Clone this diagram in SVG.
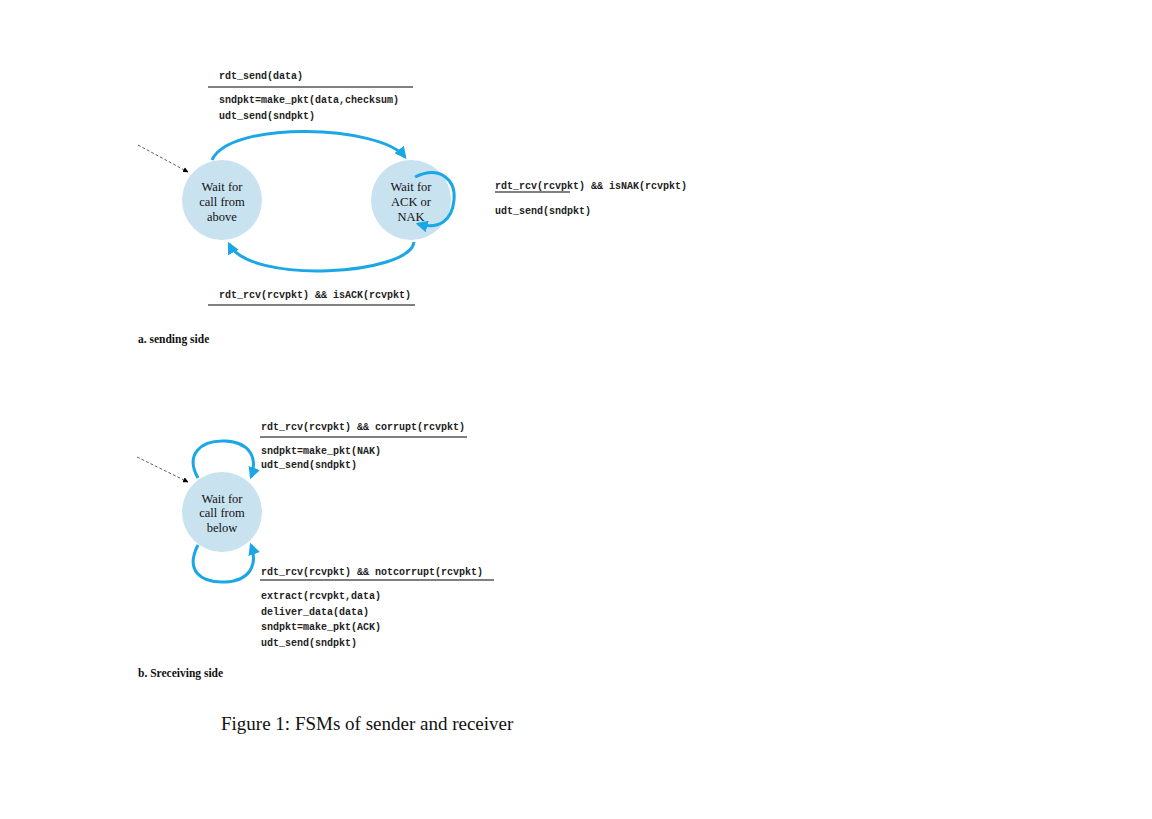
<svg xmlns="http://www.w3.org/2000/svg" width="1152" height="819" viewBox="0 0 1152 819">
<defs>
<marker id="ba" viewBox="0 0 10 10" refX="8" refY="5" markerWidth="4" markerHeight="4" orient="auto"><path d="M0,0L10,5L0,10z" fill="#1aa7e6"/></marker>
<marker id="ka" viewBox="0 0 10 10" refX="9" refY="5" markerWidth="7" markerHeight="7" orient="auto"><path d="M0,0L10,5L0,10z" fill="#000"/></marker>
<style>
.st{fill:#c8e2f0}
.sl{font:12.5px "Liberation Serif",serif;fill:#111;text-anchor:middle}
.m{font:bold 10px "Liberation Mono",monospace;fill:#222}
.e{fill:none;stroke:#1aa7e6;stroke-width:3;marker-end:url(#ba)}
.d{fill:none;stroke:#333;stroke-width:0.8;stroke-dasharray:3,2;marker-end:url(#ka)}
.u{stroke:#000;stroke-width:1}
.h{font:bold 11.5px "Liberation Serif",serif;fill:#111}
</style>
</defs>
<rect width="1152" height="819" fill="#fff"/>
<g id="s1"><circle class="st" cx="222" cy="200" r="40"/><text class="sl" x="222" y="191">Wait for</text><text class="sl" x="222" y="206">call from</text><text class="sl" x="222" y="221">above</text></g>
<g id="s2"><circle class="st" cx="411" cy="200" r="40"/><text class="sl" x="411" y="191">Wait for</text><text class="sl" x="411" y="206">ACK or</text><text class="sl" x="411" y="221">NAK</text></g>
<g id="r1"><circle class="st" cx="222" cy="512" r="40"/><text class="sl" x="222" y="503">Wait for</text><text class="sl" x="222" y="517">call from</text><text class="sl" x="222" y="532">below</text></g>
<g id="connectors">
<path class="d" d="M138,145 L188,172"/>
<path class="d" d="M137,457 L188,482"/>
<path class="e" d="M212,160 C230,120 380,125 405,157"/>
<path class="e" d="M414,242 C410,275 250,285 229,244"/>
<path class="e" d="M415,177 C440,165 456,180 454,200 C452,220 440,230 418,224"/>
<path class="e" d="M198,478 C185,455 200,440 225,441 C250,442 258,458 251,477"/>
<path class="e" d="M198,545 C185,570 200,583 225,582 C250,581 258,565 251,545"/>
</g>
<g id="labels">
<text class="m" x="219" y="79">rdt_send(data)</text>
<line class="u" x1="208" y1="87" x2="413" y2="87"/>
<text class="m" x="219" y="103">sndpkt=make_pkt(data,checksum)</text>
<text class="m" x="219" y="119">udt_send(sndpkt)</text>
<text class="m" x="495" y="189">rdt_rcv(rcvpkt) &amp;&amp; isNAK(rcvpkt)</text>
<line class="u" x1="495" y1="192" x2="570" y2="192"/>
<text class="m" x="495" y="214">udt_send(sndpkt)</text>
<text class="m" x="219" y="298">rdt_rcv(rcvpkt) &amp;&amp; isACK(rcvpkt)</text>
<line class="u" x1="208" y1="305" x2="415" y2="305"/>
<text class="h" x="138" y="343">a.  sending side</text>
<text class="m" x="261" y="430">rdt_rcv(rcvpkt) &amp;&amp; corrupt(rcvpkt)</text>
<line class="u" x1="260" y1="437" x2="467" y2="437"/>
<text class="m" x="261" y="454">sndpkt=make_pkt(NAK)</text>
<text class="m" x="261" y="468">udt_send(sndpkt)</text>
<text class="m" x="261" y="575">rdt_rcv(rcvpkt) &amp;&amp; notcorrupt(rcvpkt)</text>
<line class="u" x1="260" y1="580" x2="494" y2="580"/>
<text class="m" x="261" y="599">extract(rcvpkt,data)</text>
<text class="m" x="261" y="615">deliver_data(data)</text>
<text class="m" x="261" y="630">sndpkt=make_pkt(ACK)</text>
<text class="m" x="261" y="646">udt_send(sndpkt)</text>
<text class="h" x="138" y="677">b.  Sreceiving side</text>
<text x="221" y="730" style="font:19px 'Liberation Serif',serif;fill:#111">Figure 1: FSMs of sender and receiver</text>
</g>
</svg>
